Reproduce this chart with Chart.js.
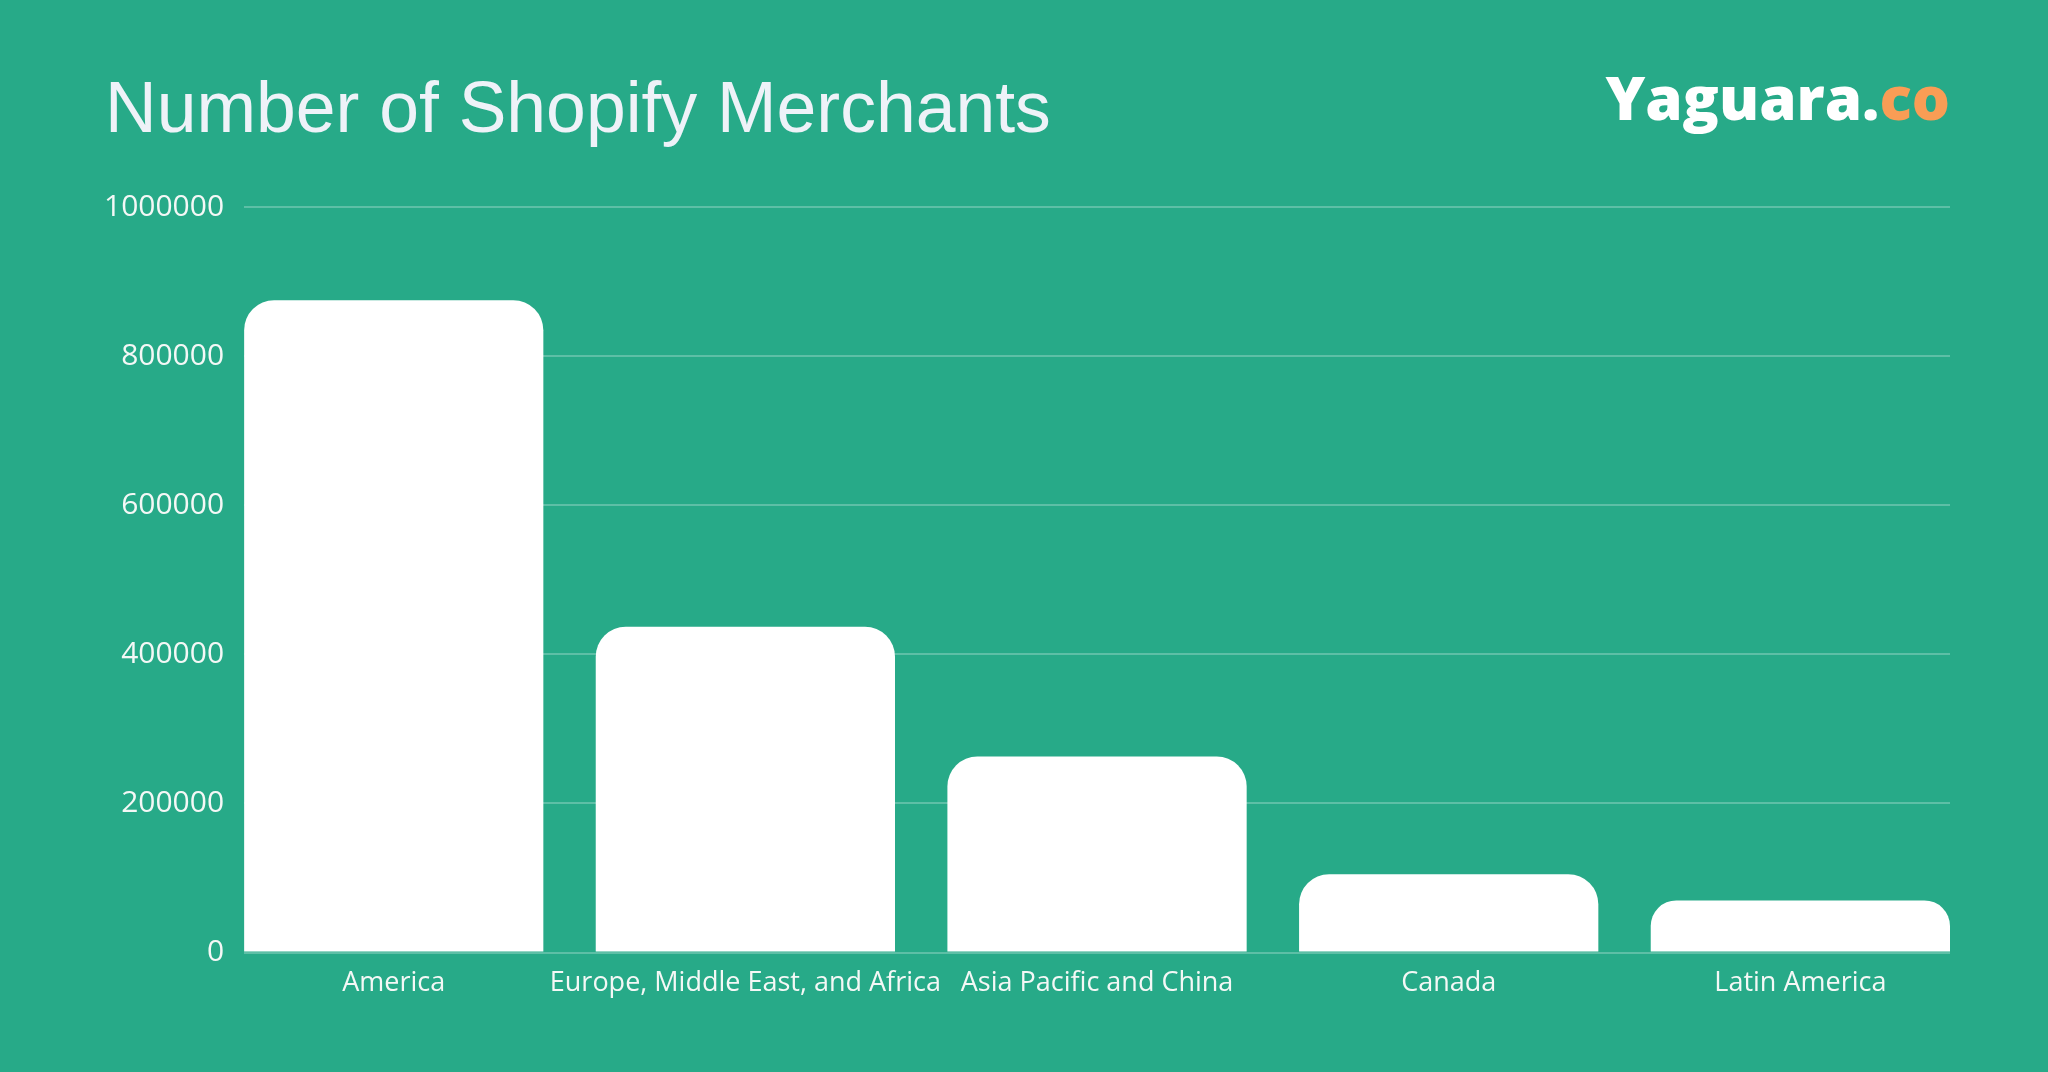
<!DOCTYPE html>
<html>
<head>
<meta charset="utf-8">
<script src="https://cdn.jsdelivr.net/npm/chart.js@4.4.1/dist/chart.umd.min.js"></script>
<style>
  html, body { margin: 0; padding: 0; background: #27aa88; }
  #wrap { width: 2048px; height: 1072px; }
</style>
</head>
<body>
<div id="wrap"><canvas id="merchants-chart"></canvas></div>
<script>
const chartTitle = 'Number of Shopify Merchants'
const regions = ['America', 'Europe, Middle East, and Africa', 'Asia Pacific and China', 'Canada', 'Latin America']
const merchants = [875000, 437000, 263000, 105000, 70000]
const yTicks = [0, 200000, 400000, 600000, 800000, 1000000]

const barShare = 0.851

// title on the left and logo on the right, above the plot
const headerPlugin = {
    id: 'header',
    afterDraw(chart) {
        const ctx = chart.ctx
        ctx.save()
        ctx.textBaseline = 'alphabetic'
        ctx.textAlign = 'left'

        ctx.font = '71.5px "Liberation Sans"'
        ctx.fillStyle = '#eef2f8'
        ctx.fillText(chartTitle, 105, 132)

        ctx.font = '800 60px "Open Sans"'
        const main = 'Yaguara.'
        const tail = 'co'
        const w1 = ctx.measureText(main).width
        const w2 = ctx.measureText(tail).width
        const x = chart.chartArea.right - w1 - w2
        ctx.fillStyle = '#ffffff'
        ctx.fillText(main, x, 120)
        ctx.fillStyle = '#f99d55'
        ctx.fillText(tail, x + w1, 120)
        ctx.restore()
    }
}

let ctx = document.getElementById('merchants-chart')
new Chart(ctx, {
    type: 'bar',
    plugins: [headerPlugin],
    data: {
        datasets: [{
            data: merchants.map((v, i) => ({ x: i, y: v })),
            backgroundColor: '#ffffff',
            borderRadius: 30,
            barPercentage: barShare,
            categoryPercentage: 1
        }]
    },
    options: {
        responsive: true,
        maintainAspectRatio: false,
        animation: false,
        layout: { padding: { left: 84, right: 98, top: 207, bottom: 65 } },
        plugins: {
            legend: { display: false },
            tooltip: { enabled: false },
            title: { display: false }
        },
        scales: {
            x: {
                type: 'linear',
                offset: false,
                min: -barShare / 2,
                max: regions.length - 1 + barShare / 2,
                afterBuildTicks: (s) => { s.ticks = regions.map((_, i) => ({ value: i })) },
                grid: { display: false },
                border: { display: false },
                ticks: {
                    color: '#f4f8f6',
                    font: { family: 'Open Sans', size: 27 },
                    padding: 7,
                    autoSkip: false,
                    maxRotation: 0,
                    callback: (v) => regions[v]
                }
            },
            y: {
                min: 0,
                max: 1000000,
                afterBuildTicks: (s) => { s.ticks = yTicks.map((v) => ({ value: v })) },
                grid: { color: 'rgba(255,255,255,0.25)', lineWidth: 2, drawTicks: false },
                border: { display: false },
                ticks: {
                    color: '#f4f8f6',
                    font: { family: 'Open Sans', size: 30 },
                    padding: 20,
                    callback: (v) => String(v)
                }
            }
        }
    }
})
</script>
</body>
</html>
